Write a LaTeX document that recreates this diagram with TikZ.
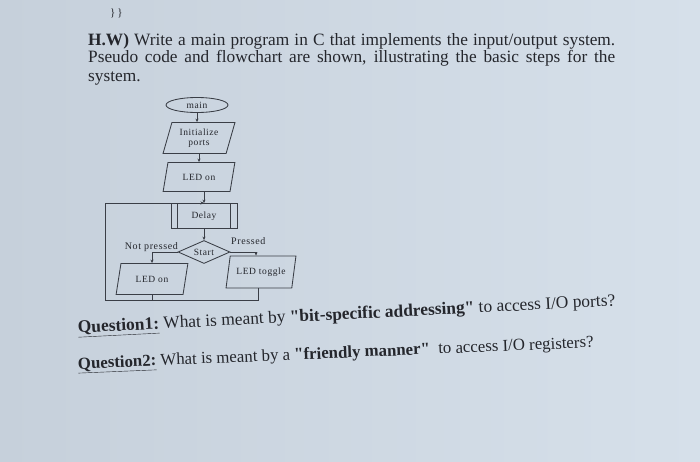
\documentclass[tikz,border=0pt]{standalone}
\usepackage{fontspec}
\setmainfont{Liberation Serif}[Ligatures=TeXOff]
\newfontfamily\flfont[LetterSpace=6]{Liberation Serif}
\usetikzlibrary{shapes.geometric,arrows.meta}
\definecolor{paperL}{RGB}{198,208,219}
\definecolor{paperR}{RGB}{214,224,234}
\definecolor{ink}{RGB}{36,38,44}
\definecolor{fline}{RGB}{58,62,70}
\tikzset{
  fl/.style={draw=fline,line width=0.85pt,fill=none,text=ink,font=\flfont\fontsize{9.5}{10.5}\selectfont,inner sep=1pt},
  para/.style={fl,trapezium,trapezium left angle=72,trapezium right angle=108,trapezium stretches=true},
  arr/.style={draw=fline,line width=0.85pt,-{Stealth[length=3.5pt,width=3pt]}},
  ln/.style={draw=fline,line width=0.85pt},
  lab/.style={text=ink,font=\flfont\fontsize{10}{11}\selectfont,inner sep=0pt},
  big/.style={text=ink,font=\fontsize{17.3}{19}\selectfont,inner sep=0pt,anchor=base west},
}
\begin{document}
\begin{tikzpicture}[x=1pt,y=-1pt]
\useasboundingbox (0,0) rectangle (700,461);
\shade[left color=paperL,right color=paperR] (0,0) rectangle (700,461);

\node[text=ink,font=\fontsize{11}{12}\selectfont,anchor=base west,inner sep=0pt] (brace) at (110,16) {\}\,\}};

\node[big] (l1) at (88,45) {\makebox[527pt][s]{\textbf{H.W)} Write a main program in C that implements the input/output system.}};
\node[big] (l2) at (88,62) {\makebox[527pt][s]{Pseudo code and flowchart are shown, illustrating the basic steps for the}};
\node[big] (l3) at (88,81) {system.};

% flowchart
\node[fl,ellipse,minimum width=62pt,minimum height=15pt,inner sep=0pt] (main) at (197,105) {main};
\node[para,minimum width=72pt,minimum height=31pt,align=center,font=\flfont\fontsize{9.5}{10}\selectfont] (init) at (199,138) {Initialize\\ports};
\node[para,minimum width=72pt,minimum height=29pt] (ledon) at (199,177) {LED on};
\node[fl,rectangle,minimum width=66pt,minimum height=25pt] (delay) at (204,216) {Delay};
\draw[ln] ([xshift=7pt]delay.north west) -- ([xshift=7pt]delay.south west);
\draw[ln] ([xshift=-7pt]delay.north east) -- ([xshift=-7pt]delay.south east);
\node[fl,diamond,aspect=2.2,minimum width=52pt,minimum height=23pt,inner sep=0pt] (start) at (204,252) {Start};
\node[para,minimum width=72pt,minimum height=31pt] (ledoff) at (152,279) {LED on};
\node[para,minimum width=70pt,minimum height=32pt] (toggle) at (261,272) {LED toggle};

\node[lab,anchor=base east] (np) at (178,249) {Not pressed};
\node[lab,anchor=base west] (pr) at (231,244) {Pressed};

\coordinate (bl) at (105,300);
\coordinate (tl) at (105,203);
\coordinate (j) at (delay.north |- tl);

\draw[arr] (main) -- (init.north -| main);
\draw[arr] (init.south -| ledon) -- (ledon.north -| init);
\draw[arr] (ledon.south -| delay) -- (delay.north);
\draw[arr] (delay) -- (start);
\draw[arr] (start.west) -| (ledoff.north);
\draw[arr] (start.east) -| ([xshift=-5pt]toggle.north);
\draw[ln] (ledoff.south) -- (ledoff.south |- bl);
\draw[ln] ([xshift=-3pt]toggle.south) -- ([xshift=-3pt]toggle.south |- bl) -- (bl) -- (tl);
\draw[arr] (tl) -- (j);

% questions
\node[big,font=\fontsize{17.4}{19}\selectfont,rotate=2.9] (q1) at (78,333) {\textbf{\underline{Question1:}} What is meant by \textbf{"bit-specific addressing"} to access I/O ports?};
\node[big,font=\fontsize{16.8}{19}\selectfont,rotate=2.4] (q2) at (78,369) {\textbf{\underline{Question2:}} What is meant by a \textbf{"friendly manner"}\ \ to access I/O registers?};
\end{tikzpicture}
\end{document}
